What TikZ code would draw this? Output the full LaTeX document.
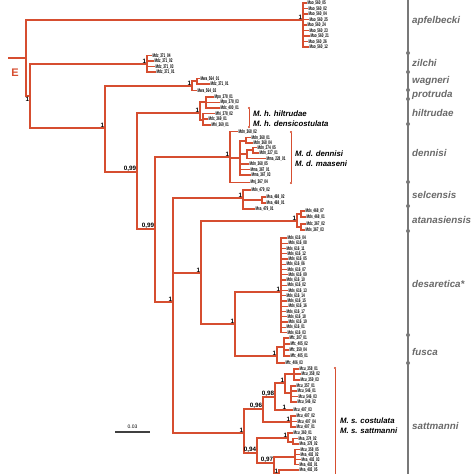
\documentclass[tikz,border=0pt]{standalone}
\usepackage{fontspec}
\setmainfont{Liberation Sans}
\newfontfamily\tipfont{Liberation Sans}[FakeStretch=0.58]
\usetikzlibrary{arrows.meta,positioning}
\definecolor{TreeRed}{RGB}{214,78,48}
\definecolor{AxisGray}{RGB}{120,120,120}
\definecolor{CladeGray}{RGB}{105,105,105}
\tikzset{
  branch/.style={draw=TreeRed,line width=1.1pt},
  tip/.style={anchor=west,inner sep=0.4pt,
    font=\tipfont\bfseries\fontsize{5.3}{5.5}\selectfont},
  support/.style={inner sep=0.6pt,font=\bfseries\fontsize{6.3}{7}\selectfont},
  clade/.style={anchor=west,inner sep=0pt,text=CladeGray,
    font=\bfseries\itshape\fontsize{9.8}{11}\selectfont},
  taxon/.style={anchor=west,inner sep=0pt,
    font=\bfseries\itshape\fontsize{7.8}{9}\selectfont},
  bar/.style={draw=TreeRed,line width=0.9pt,
    {Circle[length=2pt]}-{Circle[length=2pt]}},
  axisdot/.style={circle,fill=AxisGray,inner sep=0pt,minimum size=4pt}
}

\begin{document}
\begin{tikzpicture}[x=1pt,y=-1pt]
\useasboundingbox (0,0) rectangle (474,474);
\clip (0,0) rectangle (474,474);

% internal nodes
\coordinate (stub) at (8,58);
\coordinate (root) at (26,58);
\coordinate (apf) at (303,20);
\coordinate (n1) at (30,96);
\coordinate (zil) at (147,64);
\coordinate (n2) at (105,128);
\coordinate (wag) at (192,86);
\coordinate (wagA) at (197,81);
\coordinate (n3) at (137,172);
\coordinate (hil) at (200,113);
\coordinate (hilA) at (206,102);
\coordinate (hilB) at (203,120);
\coordinate (n4) at (155,229);
\coordinate (den) at (230,157);
\coordinate (denA) at (240,158);
\coordinate (denB) at (246,141);
\coordinate (denC) at (247,154);
\coordinate (denD) at (253,150);
\coordinate (n5) at (173,302);
\coordinate (sel) at (243,198);
\coordinate (selA) at (262,200);
\coordinate (n6) at (201,273);
\coordinate (ata) at (297,221);
\coordinate (ataA) at (301,214);
\coordinate (ataB) at (301,227);
\coordinate (n7) at (235,324);
\coordinate (des) at (281,292);
\coordinate (fus) at (277,356);
\coordinate (fusA) at (284,347);
\coordinate (sat) at (244,433);
\coordinate (satA) at (263,409);
\coordinate (satB) at (275,397);
\coordinate (satB1) at (287,410);
\coordinate (satC) at (285,383);
\coordinate (satC1) at (294,374);
\coordinate (satC2) at (291,393);
\coordinate (satD) at (291,422);
\coordinate (satE) at (257,453);
\coordinate (satF) at (288,438);
\coordinate (satF1) at (293,442);
\coordinate (satG) at (274,463);
\coordinate (satH) at (295,457);
\coordinate (satK) at (279,474);

\draw[branch] (stub) -- (root);
\foreach \p/\c in {root/apf,root/n1,n1/zil,n1/n2,n2/wag,n2/n3,wag/wagA,
  n3/hil,n3/n4,hil/hilA,hil/hilB,n4/den,n4/n5,den/denA,denA/denB,
  denA/denC,denC/denD,n5/sel,n5/n6,n5/sat,sel/selA,n6/ata,n6/n7,
  ata/ataA,ata/ataB,n7/des,n7/fus,fus/fusA,sat/satA,sat/satE,
  satA/satB,satA/satD,satB/satC,satB/satB1,satC/satC1,satC/satC2,
  satE/satF,satE/satG,satF/satF1,satG/satH,satG/satK}
  \draw[branch] (\p) |- (\c);

% tips
\foreach \p/\xx/\yy/\lab [count=\k] in {
  apf/307/3/Mao\_560\_05, apf/308/8.5/Mao\_560\_02,
  apf/308/14/Mao\_560\_04, apf/309/19.5/Mao\_560\_25, apf/307/25/Mao\_560\_24,
  apf/309/30.5/Mao\_560\_23, apf/310/36/Mao\_560\_21, apf/308/41.5/Mao\_560\_26,
  apf/309/47/Mao\_560\_12,
  zil/152/55.5/Mdz\_371\_04, zil/154/61/Mdz\_371\_02,
  zil/155/66.5/Mdz\_371\_03, zil/156/72/Mdz\_371\_01,
  wagA/200/78.5/Mwa\_564\_01, wagA/210/84/Mdz\_371\_01, wag/197/90.5/Mwa\_564\_02,
  hilA/214/97/Mpo\_378\_01, hilA/220/102.5/Mpo\_378\_03, hilA/220/108/Mdc\_400\_01,
  hilB/215/113.5/Mhi\_378\_02, hilB/208/119/Mdc\_369\_01, hilB/211/125/Mhi\_369\_01,
  den/238/131.5/Mdn\_368\_02, denB/251/137.5/Mdn\_368\_01, denB/253/143/Mdn\_368\_04,
  denD/257/147.5/Mdn\_274\_05, denD/259/153/Mdn\_227\_01, denC/266/158.5/Mma\_228\_01,
  denA/249/164/Mdn\_368\_05, denA/250/169.5/Mma\_367\_01, denA/251/175/Mma\_367\_03,
  den/250/182.5/Mnj\_367\_04,
  sel/251/190/Mds\_479\_02, selA/266/197/Msa\_468\_02, selA/266/203/Msa\_468\_01,
  sel/255/209/Msa\_479\_01,
  ataA/305/211/Mds\_468\_07, ataA/306/217/Mds\_468\_01,
  ataB/306/224/Mdc\_367\_02, ataB/305/230/Mds\_367\_03,
  fusA/289/338/Mfc\_207\_01, fusA/290/344/Mfc\_405\_02, fusA/289/350/Mfc\_359\_04,
  fusA/290/356/Mfc\_405\_01, fus/285/363/Mfc\_406\_03,
  satC1/299/369/Mcu\_358\_01, satC1/301/374/Mcu\_358\_02, satC1/300/380/Mcu\_359\_03,
  satC2/296/386/Mcu\_357\_01, satC2/297/391/Mcu\_546\_01, satC2/298/396.5/Mcu\_546\_03,
  satC2/297/402/Mcu\_546\_02, satB1/293/410/Mcu\_407\_03,
  satD/296/416/Mcu\_407\_02, satD/297/421.5/Mcu\_407\_04, satD/296/427/Mcu\_407\_01,
  satF/293/433/Mcu\_360\_01, satF1/298/438.5/Msa\_274\_02, satF1/299/444/Msa\_378\_02,
  satH/300/449.5/Mcu\_358\_05, satH/300/454.5/Msa\_402\_02, satH/301/459.5/Msa\_402\_03,
  satH/299/464.5/Msa\_402\_01, satK/299/470/Msa\_402\_05}
{
  \node[tip] (tip\k) at (\xx,\yy) {\lab};
  \draw[branch] (\p) |- (tip\k.west);
}

% desaretica comb
\foreach \lab [count=\k] in {04,08,11,12,05,06,07,09,10,02,13,14,15,16,17,18,19,01,03}
{
  \node[tip] (des\k) at ({286+mod(\k,3)},{232.75+5.25*\k}) {Mds\_616\_\lab};
  \draw[branch] (des) |- (des\k.west);
}

% support values
\node[support,below left=0pt of n1] (s-n1) {1};
\foreach \c/\v in {apf/1,zil/1,n2/1,wag/1,n3/{0,99},hil/1,n4/{0,99},den/1,
  n5/1,sel/1,n6/1,ata/1,n7/1,des/1,fus/1,sat/1,satA/{0,96},satB/{0,98},
  satC/1,satB1/1,satD/1,satE/{0,94},satF/1,satG/{0,97},satK/1}
  \node[support,above left=0pt of \c] (s-\c) {\v};

\node[text=TreeRed,font=\bfseries\fontsize{11}{12}\selectfont] (lblE) at (15,72.5) {E};

% subspecies bars
\coordinate (hbT) at (249,107);
\coordinate (hbB) at (249,128);
\coordinate (dbT) at (291,131);
\coordinate (dbB) at (291,184);
\coordinate (sbT) at (335,367);
\coordinate (sbB) at (335,490);
\draw[bar] (hbT) -- (hbB);
\draw[bar] (dbT) -- (dbB);
\draw[bar] (sbT) -- (sbB);
\node[taxon] (hh) at (253,114) {M. h. hiltrudae};
\node[taxon] (hd) at (253,123.5) {M. h. densicostulata};
\node[taxon] (dd) at (295,154) {M. d. dennisi};
\node[taxon] (dm) at (295,164) {M. d. maaseni};
\node[taxon] (sc) at (340,421) {M. s. costulata};
\node[taxon] (ss) at (340,431) {M. s. sattmanni};

% species axis
\coordinate (axT) at (408,-2);
\coordinate (axB) at (408,476);
\draw[AxisGray,line width=1.3pt] (axT) -- (axB);
\foreach \yy [count=\k] in {53,72,90,99,124,182,206,231,335,363}
  \node[axisdot] (dot\k) at (408,\yy) {};
\foreach \yy/\name [count=\k] in {21/apfelbecki,63/zilchi,81/wagneri,95/protruda,
  113/hiltrudae,153/dennisi,195/selcensis,220/atanasiensis,284/desaretica*,
  352/fusca,426/sattmanni}
  \node[clade] (sp\k) at (412,\yy) {\name};

% scale bar
\coordinate (scL) at (115,432);
\coordinate (scR) at (150,432);
\draw[black!75,line width=1.3pt] (scL) -- (scR);
\node[inner sep=0.5pt,anchor=south,font=\fontsize{5}{6}\selectfont] (scT) at (132.5,429.5) {0.03};

\end{tikzpicture}
\end{document}
